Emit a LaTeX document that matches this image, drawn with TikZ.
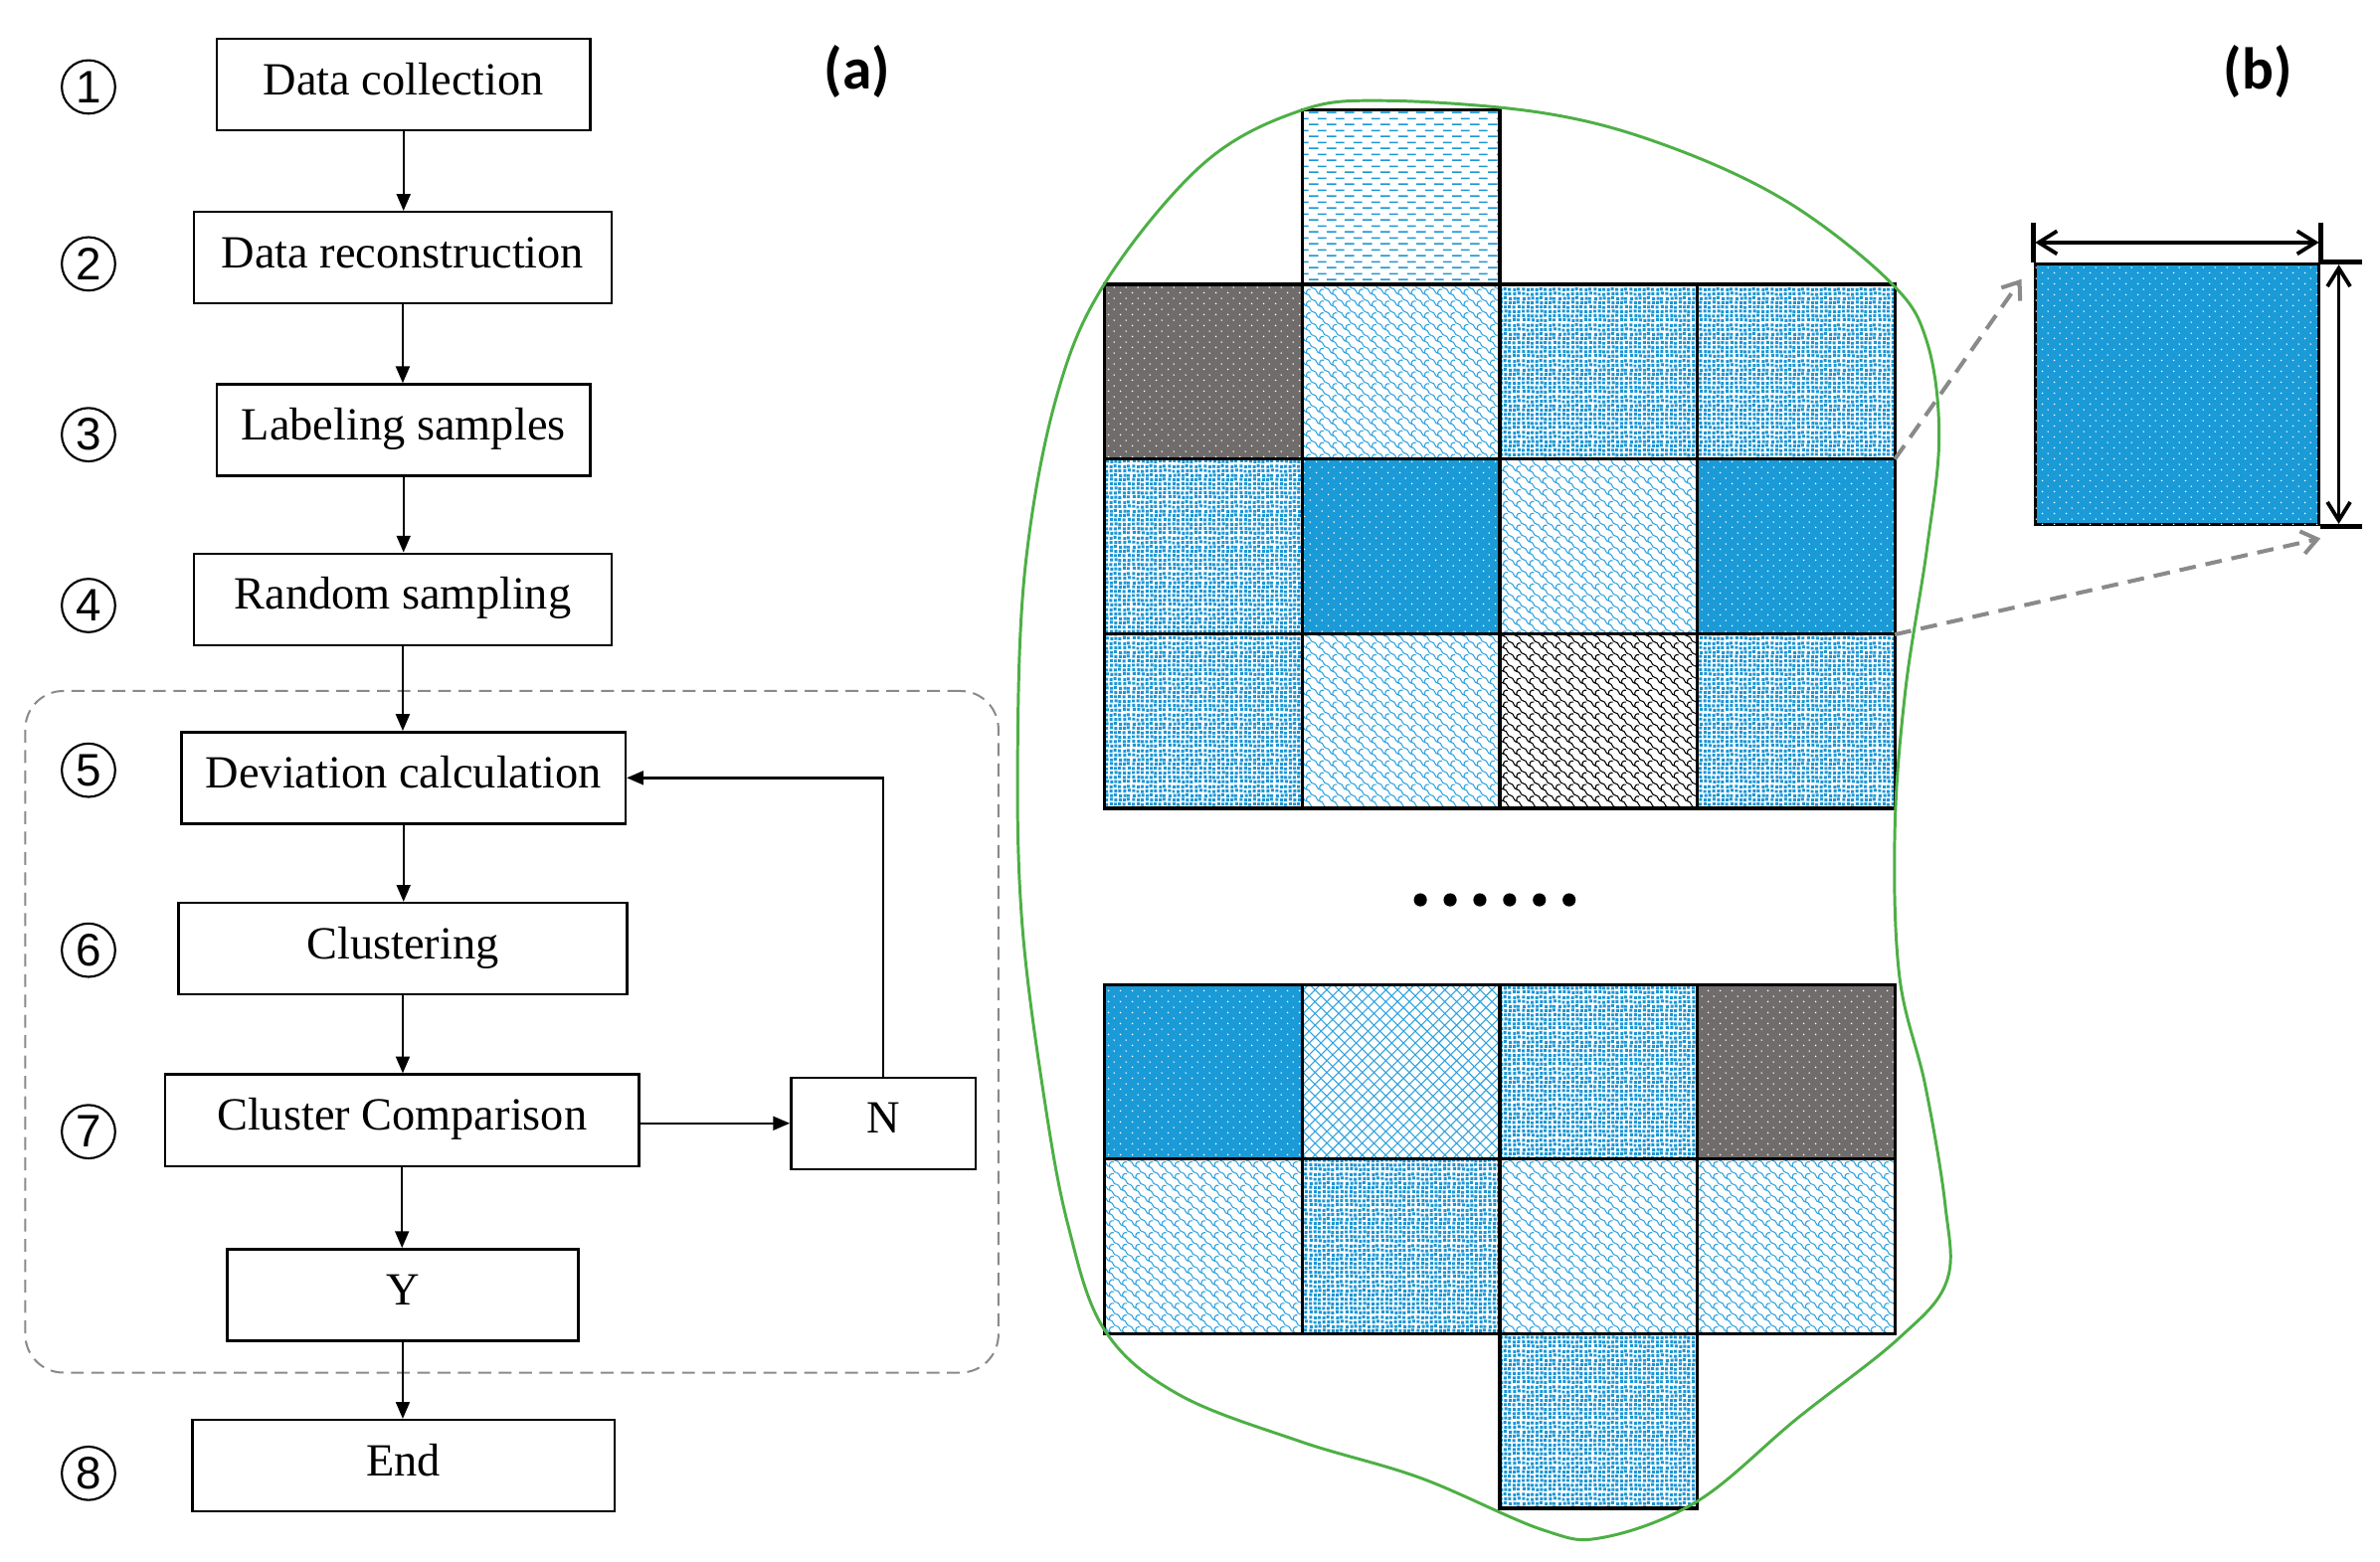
\documentclass[tikz,border=0pt]{standalone}
\usepackage{fontspec}
\setmainfont{Liberation Serif}
\newfontfamily\numfont{Liberation Sans}
\newfontfamily\labfont{Carlito}
\usetikzlibrary{arrows.meta,patterns}

\definecolor{cBlue}{HTML}{1A9AD6}
\definecolor{cGray}{HTML}{716C6C}
\definecolor{cPat}{HTML}{1C96D5}
\definecolor{cPatL}{HTML}{2FA3E0}
\definecolor{cGreen}{HTML}{4DAF45}
\definecolor{cDash}{HTML}{8A8A8A}

\pgfdeclarepatternformonly{wdots}{\pgfqpoint{0pt}{0pt}}{\pgfqpoint{4.3pt}{4.2pt}}{\pgfqpoint{4.3pt}{4.2pt}}{%
 \pgfpathcircle{\pgfqpoint{1pt}{1pt}}{0.33pt}%
 \pgfpathcircle{\pgfqpoint{3.15pt}{3.1pt}}{0.33pt}%
 \pgfusepath{fill}}

\pgfdeclarepatternformonly{hdash}{\pgfqpoint{0pt}{0pt}}{\pgfqpoint{6.6pt}{4.34pt}}{\pgfqpoint{6.6pt}{4.34pt}}{%
 \pgfpathrectangle{\pgfqpoint{0pt}{0.8pt}}{\pgfqpoint{3.6pt}{0.6pt}}%
 \pgfpathrectangle{\pgfqpoint{3.3pt}{2.97pt}}{\pgfqpoint{3.3pt}{0.6pt}}%
 \pgfusepath{fill}}

\pgfdeclarepatternformonly{confetti}{\pgfqpoint{0pt}{0pt}}{\pgfqpoint{13.2pt}{13.2pt}}{\pgfqpoint{13.2pt}{13.2pt}}{%
 \pgfmathsetseed{11}%
 \foreach \ci in {0,...,7}{%
  \foreach \cj in {0,...,7}{%
   \pgfpathrectangle{\pgfpoint{(\ci*1.65+rnd*0.45)*1pt}{(\cj*1.65+rnd*0.45)*1pt}}{\pgfqpoint{1.12pt}{1.1pt}}%
   \pgfusepath{fill}%
  }%
 }}

\pgfdeclarepatternformonly{scalepat}{\pgfqpoint{-0.3pt}{-0.3pt}}{\pgfqpoint{5.2pt}{4.7pt}}{\pgfqpoint{4.9pt}{4.4pt}}{%
 \pgfsetlinewidth{0.4pt}%
 \pgfpathmoveto{\pgfqpoint{0pt}{4.4pt}}%
 \pgfpathcurveto{\pgfqpoint{1.4pt}{4.4pt}}{\pgfqpoint{1.0pt}{2.2pt}}{\pgfqpoint{2.45pt}{2.2pt}}%
 \pgfpathcurveto{\pgfqpoint{3.9pt}{2.2pt}}{\pgfqpoint{3.5pt}{0pt}}{\pgfqpoint{4.9pt}{0pt}}%
 \pgfpathmoveto{\pgfqpoint{2.45pt}{2.2pt}}%
 \pgfpathcurveto{\pgfqpoint{1.9pt}{3.3pt}}{\pgfqpoint{2.8pt}{4.4pt}}{\pgfqpoint{3.9pt}{4.0pt}}%
 \pgfusepath{stroke}}

\pgfdeclarepatternformonly{lattice}{\pgfqpoint{-0.3pt}{-0.3pt}}{\pgfqpoint{4.7pt}{4.7pt}}{\pgfqpoint{4.4pt}{4.4pt}}{%
 \pgfsetlinewidth{0.4pt}%
 \pgfpathmoveto{\pgfqpoint{0pt}{0pt}}\pgfpathlineto{\pgfqpoint{4.4pt}{4.4pt}}%
 \pgfpathmoveto{\pgfqpoint{0pt}{4.4pt}}\pgfpathlineto{\pgfqpoint{4.4pt}{0pt}}%
 \pgfusepath{stroke}}

\tikzset{
 fbox/.style={draw, line width=0.9pt, minimum height=1.2cm, inner sep=0pt,
   text height=0.4cm, text depth=0.14cm, font=\fontsize{17.2}{20}\selectfont},
 arr/.style={line width=0.9pt, -{Triangle[length=0.22cm,width=0.18cm]}},
 numlab/.style={circle, draw, line width=0.8pt, minimum size=0.7cm, inner sep=0pt,
   font=\numfont\fontsize{17}{18}\selectfont},
 panlab/.style={font=\labfont\bfseries\fontsize{22}{24}\selectfont, inner sep=0pt},
 dashbox/.style={draw=cDash, line width=0.75pt, dash pattern=on 4.8pt off 2.8pt, rounded corners=0.5cm},
 pblue/.style={fill=cBlue, postaction={pattern=wdots, pattern color=white}},
 pgray/.style={fill=cGray, postaction={pattern=wdots, pattern color=white}},
 pconf/.style={pattern=confetti, pattern color=cPat},
 pscale/.style={pattern=scalepat, pattern color=cPatL},
 pbscale/.style={pattern=scalepat, pattern color=black},
 plat/.style={pattern=lattice, pattern color=cPatL},
 phdash/.style={pattern=hdash, pattern color=cPat},
 gridline/.style={draw=black, line width=1.2pt},
 dasharr/.style={draw=cDash, line width=1.5pt, dash pattern=on 6.2pt off 3.7pt,
   -{Straight Barb[length=0.2cm,width=0.3cm]}},
 dimarr/.style={line width=1.4pt, {Straight Barb[length=0.24cm,width=0.3cm]}-{Straight Barb[length=0.24cm,width=0.3cm]}},
 extline/.style={line width=1.7pt},
}

\newcommand{\gcell}[3]{\path[#3] (#1,#2) rectangle ++(129.5,114.5);}
\newcommand{\gbord}[2]{\draw[gridline] (#1,#2) rectangle ++(129.5,114.5);}

\begin{document}
\begin{tikzpicture}[x=0.02cm,y=-0.02cm]
\useasboundingbox (0,0) rectangle (1560,1024);

% ---------------- (a) flowchart ----------------
\node[dashbox, minimum width=12.76cm, minimum height=8.94cm] (loopbox) at (335.5,676.5) {};

\node[fbox, minimum width=4.9cm]  (s1) at (264.5,55.5) {Data collection};
\node[fbox, minimum width=5.48cm] (s2) at (264,169)    {Data reconstruction};
\node[fbox, minimum width=4.9cm]  (s3) at (264.5,282)  {Labeling samples};
\node[fbox, minimum width=5.48cm] (s4) at (264,393)    {Random sampling};
\node[fbox, minimum width=5.82cm] (s5) at (264.5,510)  {Deviation calculation};
\node[fbox, minimum width=5.88cm] (s6) at (264,622)    {Clustering};
\node[fbox, minimum width=6.22cm] (s7) at (263.5,734.5){Cluster Comparison};
\node[fbox, minimum width=2.42cm] (sn) at (579,736.5)  {N};
\node[fbox, minimum width=4.6cm]  (sy) at (264,849)    {Y};
\node[fbox, minimum width=5.54cm] (s8) at (264.5,961)  {End};

\draw[arr] (s1.south) -- (s1.south |- s2.north);
\draw[arr] (s2.south) -- (s2.south |- s3.north);
\draw[arr] (s3.south) -- (s3.south |- s4.north);
\draw[arr] (s4.south) -- (s4.south |- s5.north);
\draw[arr] (s5.south) -- (s5.south |- s6.north);
\draw[arr] (s6.south) -- (s6.south |- s7.north);
\draw[arr] (s7.south) -- (s7.south |- sy.north);
\draw[arr] (sy.south) -- (sy.south |- s8.north);
\draw[arr] (s7.east |- sn.west) -- (sn.west);
\draw[arr] (sn.north) |- (s5.east);

\node[numlab] (n1) at (58,57)  {1};
\node[numlab] (n2) at (58,173) {2};
\node[numlab] (n3) at (58,285) {3};
\node[numlab] (n4) at (58,397) {4};
\node[numlab] (n5) at (58,505) {5};
\node[numlab] (n6) at (58,623) {6};
\node[numlab] (n7) at (58,742) {7};
\node[numlab] (n8) at (58,966) {8};

\node[panlab] (la) at (562,47)  {(a)};
\node[panlab] (lb) at (1480,47) {(b)};

% ---------------- grid cells ----------------
\gcell{853.5}{72}{phdash}
\gcell{724}{186.5}{pgray}  \gcell{853.5}{186.5}{pscale} \gcell{983}{186.5}{pconf}   \gcell{1112.5}{186.5}{pconf}
\gcell{724}{301}{pconf}    \gcell{853.5}{301}{pblue}    \gcell{983}{301}{pscale}    \gcell{1112.5}{301}{pblue}
\gcell{724}{415.5}{pconf}  \gcell{853.5}{415.5}{pscale} \gcell{983}{415.5}{pbscale} \gcell{1112.5}{415.5}{pconf}

\gcell{724}{645.5}{pblue}  \gcell{853.5}{645.5}{plat}   \gcell{983}{645.5}{pconf}   \gcell{1112.5}{645.5}{pgray}
\gcell{724}{760}{pscale}   \gcell{853.5}{760}{pconf}    \gcell{983}{760}{pscale}    \gcell{1112.5}{760}{pscale}
\gcell{983}{874.5}{pconf}

\gbord{853.5}{72}
\foreach \yy in {186.5,301,415.5,645.5,760} {
  \foreach \xx in {724,853.5,983,1112.5} { \gbord{\xx}{\yy} }
}
\gbord{983}{874.5}

% dots
\foreach \xx in {931,950.5,970,989.5,1009,1028.5} { \fill (\xx,590) circle[radius=0.086cm]; }

% green outline
\draw[cGreen, line width=1.1pt] plot[smooth cycle, tension=0.6] coordinates {
 (907,66) (1011,74) (1091,95) (1171,132) (1239,185) (1263,224) (1271,286)
 (1263,360) (1249,452) (1242,544) (1245,640) (1262,712) (1275,790) (1276,840)
 (1244,878) (1178,930) (1113,984) (1051,1008) (1011,1003) (931,969) (852,945)
 (772,914) (724,872) (700,803) (684,717) (670,606) (667,496) (672,372)
 (692,262) (724,186) (788,108) (851,73)};

% ---------------- (b) zoomed cell ----------------
\node[draw, line width=1.2pt, fill=cBlue, postaction={pattern=wdots, pattern color=white},
      minimum width=3.72cm, minimum height=3.42cm, inner sep=0pt] (zoomsq) at (1427,258.5) {};

\coordinate (g1) at (1242,301);
\coordinate (g2) at (1242,416);
\coordinate (e1) at (1325,183);
\coordinate (e2) at (1521,353);
\draw[dasharr] (g1) -- (e1);
\draw[dasharr] (g2) -- (e2);

\draw[extline] (zoomsq.north west) -- ++(0,-26);
\draw[extline] (zoomsq.north east) -- ++(0,-26);
\draw[extline] (zoomsq.north east) -- ++(27,0);
\draw[extline] (zoomsq.south east) -- ++(27,0);
\coordinate (h1) at (1334,159);
\coordinate (h2) at (1520,159);
\coordinate (v1) at (1533,173.5);
\coordinate (v2) at (1533,343.5);
\draw[dimarr] (h1) -- (h2);
\draw[dimarr] (v1) -- (v2);
\end{tikzpicture}
\end{document}
